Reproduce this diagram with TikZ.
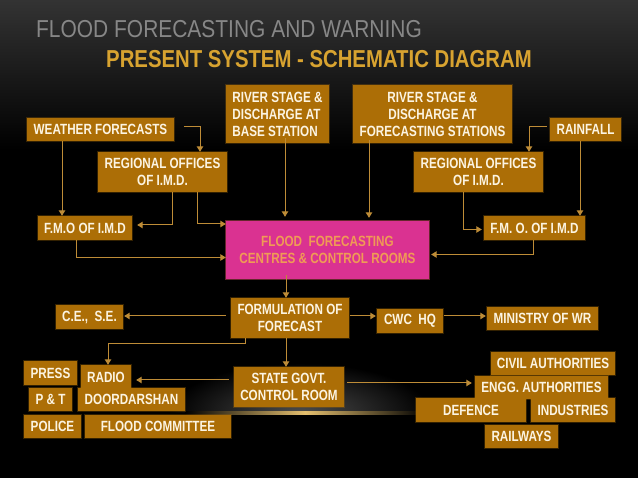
\documentclass[tikz,border=0pt]{standalone}
\usepackage{fontspec}
\setmainfont{Liberation Sans}
\newfontfamily\boxfont[FakeStretch=0.79]{Liberation Sans Bold}
\newfontfamily\titlefont[FakeStretch=0.855]{Liberation Sans}
\newfontfamily\subfont[FakeStretch=0.83]{Liberation Sans Bold}
\usetikzlibrary{arrows.meta,calc}
\definecolor{boxc}{RGB}{172,110,6}
\definecolor{pinkc}{RGB}{218,50,145}
\definecolor{linec}{RGB}{190,140,55}
\definecolor{txtc}{RGB}{252,244,226}
\definecolor{pinktxt}{RGB}{240,155,85}
\definecolor{titlec}{RGB}{135,135,135}
\definecolor{subc}{RGB}{216,163,48}
\tikzset{
  x=1pt,y=-1pt,
  panel/.style={fill=boxc,draw=none,inner sep=0pt,text=txtc,align=center,
    font=\boxfont\fontsize{14.8}{17}\selectfont,
    preaction={draw=boxc,line width=1.4pt,opacity=.3}},
  pinkpanel/.style={panel,fill=pinkc,text=pinktxt,preaction={draw=pinkc,line width=1.4pt,opacity=.3}},
  leftpanel/.style={panel,align=left},
  link/.style={draw=linec,line width=1pt,-{Triangle[length=5.5pt,width=6.5pt,fill=linec]}},
  titletext/.style={inner sep=0pt,anchor=base west,text=titlec,font=\titlefont\fontsize{24.5}{28}\selectfont},
  subtext/.style={inner sep=0pt,anchor=base west,text=subc,font=\subfont\fontsize{24.5}{28}\selectfont},
}
\newcommand{\bx}[7][panel]{%
  \pgfmathsetmacro{\bw}{#5-#3}\pgfmathsetmacro{\bh}{#6-#4}%
  \pgfmathsetmacro{\cx}{(#3+#5)/2}\pgfmathsetmacro{\cy}{(#4+#6)/2}%
  \node[#1,minimum width=\bw pt,minimum height=\bh pt] (#2) at (\cx,\cy) {#7};}
\begin{document}
\begin{tikzpicture}
\useasboundingbox (0,0) rectangle (638,478);
\fill[black] (0,0) rectangle (638,478);
\shade[top color=black!80!white,bottom color=black] (0,0) rectangle (638,150);
% glow on the horizon
\begin{scope}
\clip (150,340) rectangle (450,413);
\shade[inner color=black!70!white,outer color=black] (300,413) ellipse (130 and 50);
\end{scope}
\shade[left color=black,right color=subc!70!white] (185,411.5) rectangle (305,414.5);
\shade[left color=subc!70!white,right color=black] (305,411.5) rectangle (425,414.5);
% title
\node[titletext] (t1) at (36,37.5) {FLOOD FORECASTING AND WARNING};
\node[subtext] (t2) at (106,68) {PRESENT SYSTEM - SCHEMATIC DIAGRAM};
% boxes
\bx{wf}{27}{118}{174}{141}{WEATHER FORECASTS}
\bx{rol}{98}{152}{227}{192}{REGIONAL OFFICES\\OF I.M.D.}
\bx[leftpanel]{rb}{226}{85}{329}{143}{RIVER STAGE \&\\DISCHARGE AT\\BASE STATION}
\bx{rf}{353}{85}{512}{143}{RIVER STAGE \&\\DISCHARGE AT\\FORECASTING STATIONS}
\bx{rain}{550}{118}{621}{141}{RAINFALL}
\bx{ror}{414}{152}{543}{192}{REGIONAL OFFICES\\OF I.M.D.}
\bx{fml}{38}{216}{132}{240}{F.M.O OF I.M.D}
\bx{fmr}{484}{216}{585}{240}{F.M. O. OF I.M.D}
\bx[pinkpanel]{ffc}{226}{221}{429}{279}{FLOOD\ \ FORECASTING\\CENTRES \& CONTROL ROOMS}
\bx{form}{231}{298}{349}{338}{FORMULATION OF\\FORECAST}
\bx{ce}{56}{305}{123}{329}{C.E.,\ \ S.E.}
\bx{cwc}{377}{309}{443}{333}{CWC\ \ HQ}
\bx{min}{487}{307}{598}{330}{MINISTRY OF WR}
\bx{press}{24}{361}{77}{385}{PRESS}
\bx{radio}{81}{365}{131}{389}{RADIO}
\bx{pt}{29}{388}{72}{411}{P \& T}
\bx{door}{78}{388}{185}{411}{DOORDARSHAN}
\bx{pol}{24}{415}{81}{438}{POLICE}
\bx{fc}{85}{415}{231}{438}{FLOOD COMMITTEE}
\bx{st}{234}{367}{344}{407}{STATE GOVT.\\CONTROL ROOM}
\bx{civ}{491}{352}{615}{375}{CIVIL AUTHORITIES}
\bx{eng}{475}{376}{608}{399}{ENGG. AUTHORITIES}
\bx{def}{416}{398}{526}{422}{DEFENCE}
\bx{ind}{531}{398}{615}{422}{INDUSTRIES}
\bx{rail}{485}{425}{558}{448}{RAILWAYS}
% connectors, node to node
\draw[link,shorten <=10pt] (wf.east |- 0,127) -| (200,0 |- rol.north);
\draw[link] (62,0 |- wf.south) -- (62,0 |- fml.north);
\draw[link,shorten >=5pt] (172,0 |- rol.south) |- (fml.east |- 0,225);
\draw[link] (197,0 |- rol.south) |- (ffc.west |- 0,224);
\draw[link,shorten <=-5pt,shorten >=4pt] (285,0 |- rb.south) -- (285,0 |- ffc.north);
\draw[link,shorten <=-3pt,shorten >=3pt] (369,0 |- rf.south) -- (369,0 |- ffc.north);
\draw[link,shorten <=3pt] (rain.west |- 0,127) -| (529,0 |- ror.north);
\draw[link] (580,0 |- rain.south) -- (580,0 |- fmr.north);
\draw[link,shorten >=2pt] (463,0 |- ror.south) |- (fmr.west |- 0,229.5);
\draw[link,shorten >=2pt] (533,0 |- fmr.south) |- (ffc.east |- 0,254.5);
\draw[link] (76,0 |- fml.south) |- (ffc.west |- 0,257.5);
\draw[link,shorten <=-4pt] (286,0 |- ffc.south) -- (286,0 |- form.north);
\draw[link,shorten <=5pt,shorten >=1pt] (form.west |- 0,316) -- (ce.east |- 0,316);
\draw[link,shorten <=1pt,shorten >=1pt] (form.east |- 0,316) -- (cwc.west |- 0,316);
\draw[link,shorten <=1pt,shorten >=1pt] (cwc.east |- 0,316) -- (min.west |- 0,316);
\draw[link] (245,0 |- form.south) -- (245,344) -| (108,0 |- radio.north);
\draw[link] (286,0 |- form.south) -- (286,0 |- st.north);
\draw[link,shorten <=5pt,shorten >=5pt] (st.west |- 0,380) -- (radio.east |- 0,380);
\draw[link,shorten <=3pt,shorten >=3pt] (st.east |- 0,383) -- (eng.west |- 0,383);
\end{tikzpicture}
\end{document}
